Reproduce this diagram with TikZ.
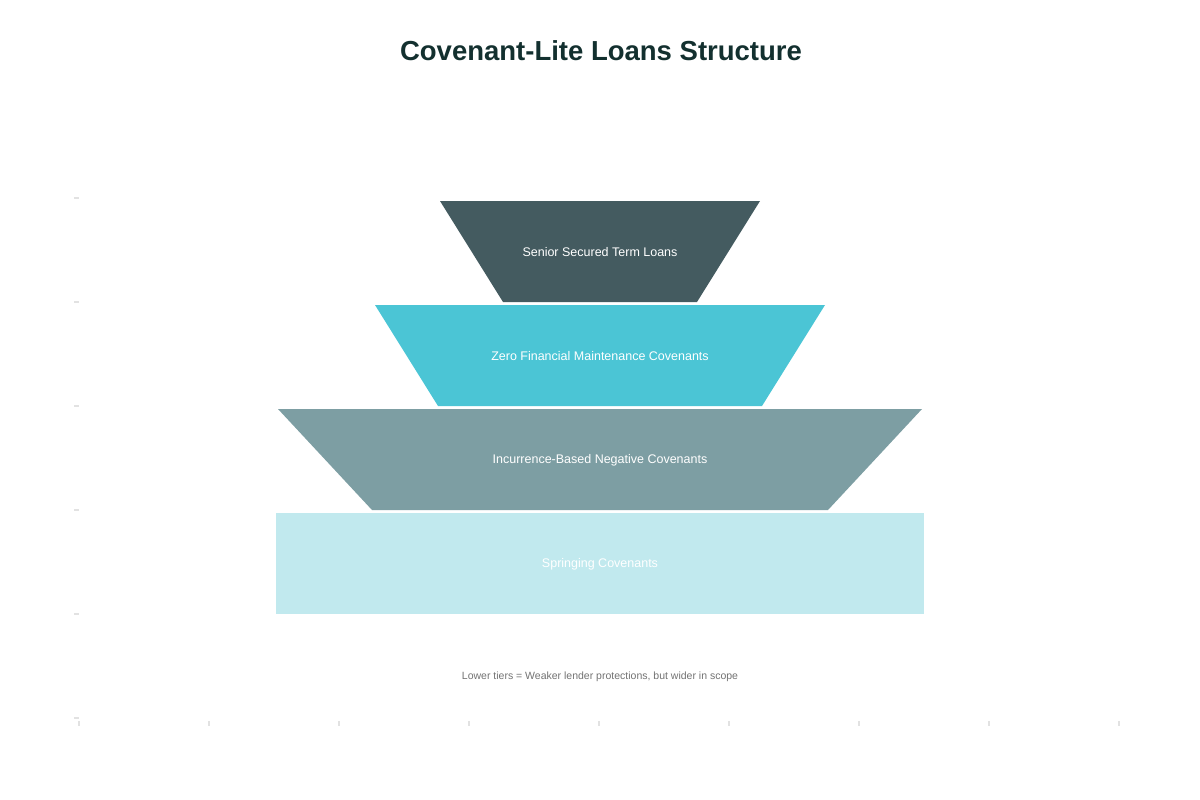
\documentclass[tikz,border=0pt]{standalone}
\usepackage{fontspec}
\setmainfont{Liberation Sans}
\usepackage{tikz}
\usetikzlibrary{positioning}

\definecolor{tierA}{HTML}{445B60}
\definecolor{tierB}{HTML}{4BC5D5}
\definecolor{tierC}{HTML}{7D9EA3}
\definecolor{tierD}{HTML}{C1E9EE}
\definecolor{titlecol}{HTML}{13302F}
\definecolor{tickcol}{HTML}{E2E2E2}

\begin{document}
\begin{tikzpicture}[x=1pt,y=-1pt,
  tierlabel/.style={text=white, font=\fontsize{12.5}{14}\selectfont},
  tick/.style={draw=tickcol, line width=1.2pt}]
\useasboundingbox[fill=white] (0,0) rectangle (1200,800);

% Titel
\node[font=\fontsize{27.5}{30}\bfseries\selectfont, text=titlecol] (title) at (601,51) {Covenant-Lite Loans Structure};

% Achsenstriche
\foreach \y in {198,302,406,510,614,718}
  \draw[tick] (74,\y) -- (79,\y);
\foreach \x in {79,209,339,469,599,729,859,989,1119}
  \draw[tick] (\x,721) -- (\x,726);

% Stufen
\fill[tierA] (440,201) -- (760,201) -- (697,302) -- (503,302) -- cycle;
\fill[tierB] (375,305) -- (825,305) -- (762,406) -- (438,406) -- cycle;
\fill[tierC] (278,409) -- (922,409) -- (828,510) -- (372,510) -- cycle;
\fill[tierD] (276,513) rectangle (924,614);

\node[tierlabel] (senior) at (600,252) {Senior Secured Term Loans};
\node[tierlabel] (zero) at (600,356) {Zero Financial Maintenance Covenants};
\node[tierlabel] (incur) at (600,460) {Incurrence-Based Negative Covenants};
\node[tierlabel] (spring) at (600,564) {Springing Covenants};

% Fussnote
\node[font=\fontsize{10.5}{12}\selectfont, text=black!55] (note) at (600,677) {Lower tiers = Weaker lender protections, but wider in scope};
\end{tikzpicture}
\end{document}
